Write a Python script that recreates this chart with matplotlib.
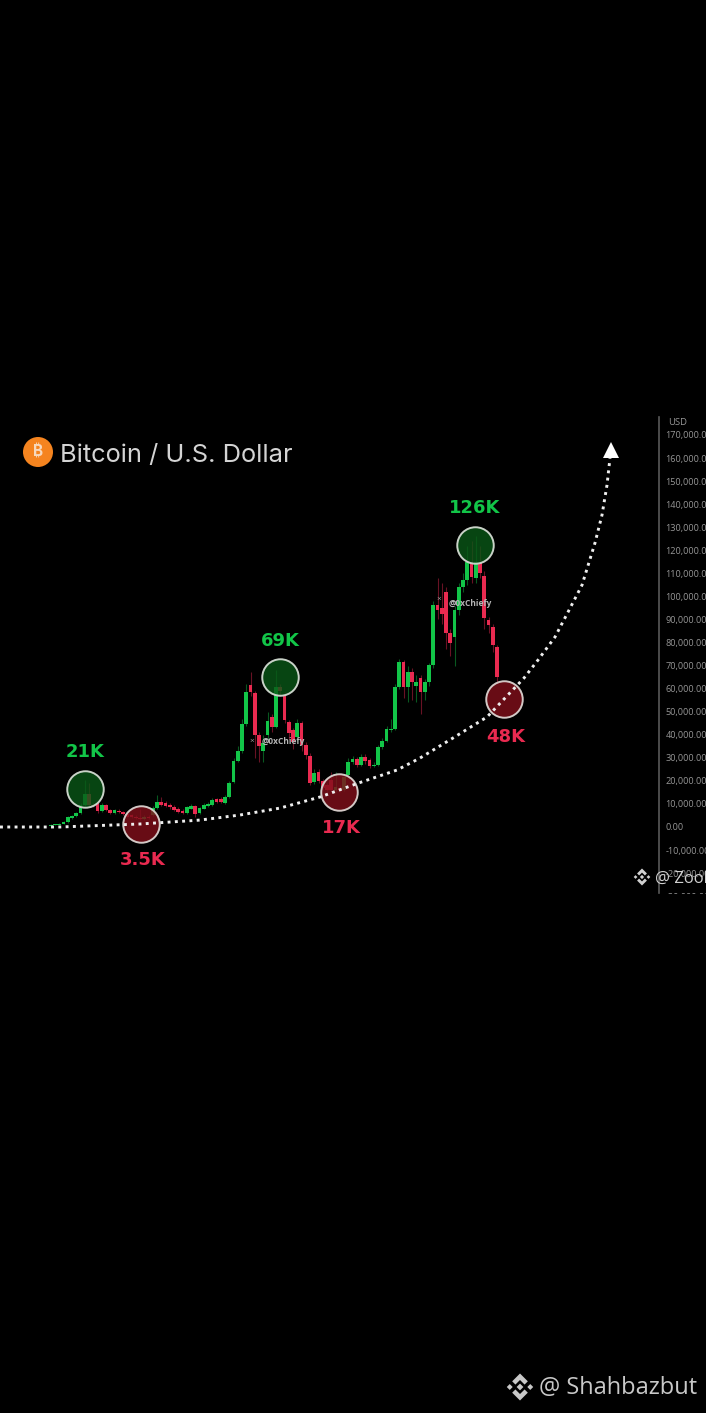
import matplotlib
matplotlib.use("Agg")
import matplotlib.pyplot as plt
from matplotlib.patches import Circle, Polygon, Rectangle
from matplotlib.transforms import Affine2D

# monthly candles, prices in thousands of USD
opens = [0.3, 0.8, 1.0, 1.2, 2.0, 4.0, 4.8, 6.0, 9.5, 14.5, 9.5, 10.4, 6.9, 9.5, 7.5, 6, 7, 6.5, 5.5, 5, 4.5, 4, 3.5, 4.5, 5.2, 8.2,
         11, 10.4, 9.5, 8.8, 8, 7, 6, 8, 9, 6, 8, 9, 9.5, 12, 12, 10.4, 13, 19.5, 28.6, 33, 44.7, 61.5, 58, 40, 33, 40, 47.5, 43.5,
         60.5, 57.2, 45.7, 42, 39, 45, 35.6, 31, 19.5, 24, 20, 18, 20.4, 16, 17, 16, 22.5, 28.2, 29.5, 27, 30.5, 29, 26.5, 27, 34.7,
         37.3, 42, 42.5, 60.7, 71.5, 60.7, 67, 61, 64.6, 58.5, 62.9, 70.2, 96.3, 95, 101.9, 84, 82.4, 94.1, 104, 107, 114.5, 108,
         114.5, 109, 89.8, 86.7, 78]
closes = [1.0, 1.2, 1.3, 2.0, 4.3, 4.8, 6.0, 9.5, 14.5, 9.5, 9.0, 6.9, 9.5, 7.5, 6, 7.5, 6.5, 5.5, 4.5, 4.2, 4, 3.5, 4.2, 3.8, 8.2, 10.7,
          9.5, 9, 8.5, 7.5, 6.5, 6, 8.5, 9, 5.5, 8.2, 9.5, 10, 11.5, 11, 11, 13, 19, 28.6, 33, 44.7, 58.5, 58.5, 40, 35, 36.5, 46, 43.5, 60.7,
          59, 46.4, 40.8, 36.9, 45, 35.6, 31.2, 19, 23.4, 20, 17, 16, 16, 17.5, 16, 21.7, 28.2, 29.5, 27, 30.5, 28.5, 26.5, 27, 34.7, 37.3,
          42.5, 42.7, 60.7, 71.5, 60.7, 67, 63, 63, 58.5, 62.9, 70.2, 96.3, 94, 92.5, 84.1, 80, 94.1, 104.1, 107, 115, 108.4, 115,
          110, 90.6, 87.6, 78.9, 65]
highs = [1.2, 1.4, 1.6, 2.4, 4.8, 5.2, 6.6, 10.5, 20.5, 19, 10.5, 11.5, 10.2, 10, 8, 8, 7.6, 7, 6, 5.6, 5, 8, 5, 5.2, 9, 13.8,
         13, 11.2, 10.2, 9.4, 8.6, 7.6, 9.2, 9.8, 9.6, 8.8, 10.2, 10.8, 12.4, 12.6, 12.8, 14, 20, 30, 35, 47, 62, 67, 59, 41, 40, 50, 49, 68,
         62, 58.5, 46.5, 43, 47, 46, 37, 32, 25, 25, 21, 19, 24, 24, 18, 23, 30, 31, 30.5, 31.5, 31.5, 30, 28, 35.5, 38.5,
         44, 47, 62, 73, 72.5, 70, 69, 66, 66, 64, 71, 98, 108, 106, 104, 86, 96, 106, 110, 122, 124, 126,
         122, 111, 91, 88, 79]
lows = [0.2, 0.7, 0.9, 1.1, 1.8, 3.6, 4.5, 5.8, 8.5, 8.5, 8.5, 6.2, 6.4, 7, 5.6, 5.6, 6, 5, 4.2, 3.8, 3.6, 3.2, 3.2, 3.4, 4.8, 7.8,
        9, 8.6, 8, 7, 6, 5.6, 5.6, 7.6, 4.5, 5.6, 7.6, 8.6, 9, 10.4, 10.4, 10, 12.6, 19, 28, 32, 44, 57, 30, 28, 28, 38, 41, 43,
        57, 45, 38, 34, 37, 33, 29.5, 18, 18.5, 19, 16, 15.5, 15, 15, 15, 15.5, 22, 27.5, 26, 26.5, 27.5, 25.5, 26, 26.5, 34,
        37, 41, 42, 60, 56, 54, 55, 54, 49, 55, 61, 69, 90, 88, 77, 74, 70, 92, 102, 105, 106, 106,
        108, 86, 84, 76, 63]

# dotted growth curve
curve_x = [0, 60, 140, 200, 240, 280, 320, 358, 397, 420, 453, 487, 524, 538, 555, 568, 582, 595, 602, 607, 610]
curve_k = [0, 0, 1.3, 3, 5.2, 8.2, 13, 19, 24.7, 29.9, 38.6, 47.7, 64.6, 72.4, 82.4, 93.2, 104.9, 123.2, 135.3, 148.3, 160]

top_x = [85, 280, 475]
top_k = [16.5, 65, 122.3]
top_labels = ["21K", "69K", "126K"]
top_label_k = [32.5, 80.7, 138.2]
bottom_x = [141, 339, 504]
bottom_k = [1.3, 15.2, 55.5]
bottom_labels = ["3.5K", "17K", "48K"]
bottom_label_k = [-14.3, -0.4, 39.2]

axis_ticks = [170, 160, 150, 140, 130, 120, 110, 100, 90, 80, 70, 60, 50, 40, 30, 20, 10, 0, -10, -20, -30]

WIDTH, HEIGHT = 706, 1413
GREEN = "#12c548"
RED = "#e92a50"

plt.rcParams["font.family"] = ["Open Sans", "DejaVu Sans"]

fig = plt.figure(figsize=(WIDTH / 100, HEIGHT / 100), dpi=100, facecolor="black")
ax = fig.add_axes([0, 0, 659 / WIDTH, 1], facecolor="black")
ax.set_xlim(0, 659)
ax.set_ylim((827 - HEIGHT) / 2.306, 827 / 2.306)

# candles
for i in range(len(opens)):
    x = 50.75 + 4.25 * i
    col = GREEN if closes[i] >= opens[i] else RED
    ax.vlines(x, lows[i], highs[i], color=col, lw=0.8, alpha=0.45, zorder=2)
    ax.bar(x, abs(closes[i] - opens[i]), bottom=min(opens[i], closes[i]), width=3.6, color=col, lw=0, zorder=3)

# circles
ax.scatter(top_x, top_k, s=690, facecolor=(0.04, 0.34, 0.09, 0.8), edgecolor="#c9d2c8", lw=1.4, zorder=4)
ax.scatter(bottom_x, bottom_k, s=690, facecolor=(0.5, 0.06, 0.1, 0.82), edgecolor="#d3c9c6", lw=1.4, zorder=4)

# curve and arrow head
ax.plot(curve_x, curve_k, color="#eeeeee", lw=2.1, linestyle=(0, (1, 1.5)), dash_capstyle="butt", zorder=5)
ax.plot([611], [163.5], marker="^", ms=11, color="white", mew=0, zorder=5)

for x, k, s in zip(top_x, top_label_k, top_labels):
    ax.text(x, k, s, color=GREEN, fontsize=13, fontweight="bold", family="DejaVu Sans", ha="center", va="center", zorder=6)
for x, k, s in zip([143, 341, 506], bottom_label_k, bottom_labels):
    ax.text(x, k, s, color=RED, fontsize=13, fontweight="bold", family="DejaVu Sans", ha="center", va="center", zorder=6)

# chart watermarks
ax.text(283, 37, "@0xChiefy", color="#b5b5b5", fontsize=6, fontweight="bold", ha="center", va="center", zorder=6)
ax.text(470, 97, "@0xChiefy", color="#b5b5b5", fontsize=6, fontweight="bold", ha="center", va="center", zorder=6)
ax.text(252, 37, "\u00d7", color="#999999", fontsize=6, ha="center", va="center", zorder=6)
ax.text(439, 98.5, "\u00d7", color="#999999", fontsize=6, ha="center", va="center", zorder=6)

# price axis on the right
for side in ["left", "top", "bottom"]:
    ax.spines[side].set_visible(False)
ax.spines["right"].set_color("#5a5a5a")
ax.spines["right"].set_linewidth(1.2)
ax.spines["right"].set_bounds((827 - 893) / 2.306, (827 - 417) / 2.306)
ax.set_xticks([])
ax.yaxis.tick_right()
ax.set_yticks(axis_ticks)
ax.set_yticklabels(["{:,.2f}".format(t * 1000) if t != 0 else "0.00" for t in axis_ticks])
ax.tick_params(axis="y", length=0, pad=4.5, labelsize=6.6, labelcolor="#969696")
ax.text(668, 175.5, "USD", color="#969696", fontsize=6.8, ha="left", va="center", clip_on=False)

# everything below here is placed in image pixels
px = Affine2D().scale(1, -1).translate(0, HEIGHT)


def binance_logo(cx, cy, r, color):
    top = [(0, -1), (0.58, -0.42), (0.34, -0.18), (0, -0.52), (-0.34, -0.18), (-0.58, -0.42)]
    bot = [(a, -b) for a, b in top]
    shapes = [top, bot]
    for dx, h in [(-0.76, 0.22), (0.76, 0.22), (0, 0.25)]:
        shapes.append([(dx - h, 0), (dx, -h), (dx + h, 0), (dx, h)])
    for s in shapes:
        pts = [(cx + a * r, cy + b * r) for a, b in s]
        fig.add_artist(Polygon(pts, closed=True, transform=px, color=color, lw=0, zorder=7))


# crop the chart strip like in the screenshot
fig.add_artist(Rectangle((640, 894), 66, 60, transform=px, color="black", lw=0, zorder=5))

# title with coin
fig.add_artist(Circle((38, 452), 15, transform=px, color="#f5841f", lw=0, zorder=7))
fig.text(38 / WIDTH, 1 - 452 / HEIGHT, "\u20bf", color="#f7d9bd", fontsize=11, fontweight="bold",
         family=["Inter", "Noto Sans", "Roboto"], ha="center", va="center", zorder=8)
fig.text(60 / WIDTH, 1 - 455 / HEIGHT, "Bitcoin / U.S. Dollar", color="#d4d4d4", fontsize=18.3,
         family="Inter", ha="left", va="center", zorder=8)

# overlay credits
binance_logo(642, 877, 8.5, "#d0d0d0")
fig.text(655 / WIDTH, 1 - 879 / HEIGHT, "@ Zooh", color="#d0d0d0", fontsize=12, ha="left", va="center", zorder=8)
binance_logo(520, 1387, 13.5, "#c8c8c8")
fig.text(539 / WIDTH, 1 - 1388 / HEIGHT, "@ Shahbazbut", color="#c8c8c8", fontsize=17, ha="left", va="center", zorder=8)

fig.savefig("out.png", dpi=100, facecolor="black")
